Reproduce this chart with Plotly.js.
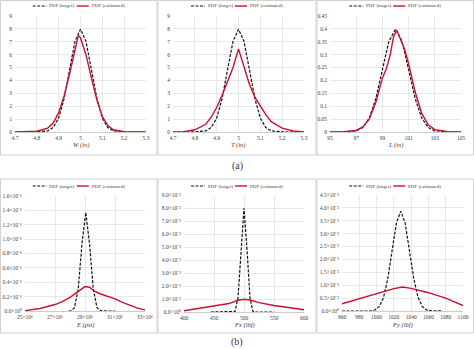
<!DOCTYPE html>
<html><head><meta charset="utf-8">
<script src="https://cdn.plot.ly/plotly-3.0.1.min.js"></script>
<style>html,body{margin:0;padding:0;background:#fff}#c{width:474px;height:349px}</style>
</head><body><div id="c"></div>
<script>
// ---- data ----
const W_x = [4.7, 4.75, 4.8, 4.85, 4.875, 4.9, 4.925, 4.95, 4.975, 5.0, 5.025, 5.05, 5.075, 5.1, 5.125, 5.15, 5.2, 5.25, 5.3];
const W_target = [0, 0, 0.003, 0.09, 0.35, 1.08, 2.59, 4.84, 7.04, 7.98, 7.04, 4.84, 2.59, 1.08, 0.35, 0.09, 0.003, 0, 0];
const W_est_x = [4.7, 4.75, 4.8, 4.85, 4.875, 4.9, 4.925, 4.95, 4.975, 4.99, 5.0, 5.025, 5.05, 5.075, 5.1, 5.125, 5.15, 5.2, 5.25, 5.3];
const W_est = [0, 0.01, 0.06, 0.3, 0.7, 1.5, 2.8, 4.5, 6.5, 7.5, 7.3, 6.0, 4.2, 2.5, 1.2, 0.5, 0.17, 0.02, 0, 0];

const T_x = [4.7, 4.75, 4.8, 4.85, 4.875, 4.9, 4.925, 4.95, 4.975, 5.0, 5.025, 5.05, 5.075, 5.1, 5.125, 5.15, 5.2, 5.25, 5.3];
const T_target = [0, 0, 0.003, 0.09, 0.35, 1.08, 2.59, 4.84, 7.04, 7.98, 7.04, 4.84, 2.59, 1.08, 0.35, 0.09, 0.003, 0, 0];
const T_est = [0, 0.03, 0.17, 0.6, 1.15, 1.9, 2.85, 3.9, 5.0, 6.45, 5.0, 3.7, 2.7, 2.0, 1.35, 0.8, 0.3, 0.08, 0];

const L_x = [95, 96, 97, 97.5, 98, 98.5, 99, 99.5, 100, 100.5, 101, 101.5, 102, 102.5, 103, 104, 105];
const L_target = [0, 0.0001, 0.0044, 0.0175, 0.054, 0.13, 0.242, 0.352, 0.399, 0.352, 0.242, 0.13, 0.054, 0.0175, 0.0044, 0.0001, 0];
const L_est_x = [95, 96, 97, 97.5, 98, 98.5, 99, 99.3, 99.6, 99.85, 100.1, 100.4, 100.7, 101, 101.5, 102, 102.5, 103, 104, 105];
const L_est = [0, 0.001, 0.006, 0.02, 0.05, 0.115, 0.21, 0.245, 0.3, 0.37, 0.395, 0.36, 0.32, 0.265, 0.155, 0.072, 0.028, 0.009, 0.001, 0];

const E_target_x = [27.9e6, 28.05e6, 28.3e6, 28.55e6, 28.8e6, 29.05e6, 29.3e6, 29.55e6, 29.8e6, 30.05e6, 30.5e6, 31.0e6];
const E_target = [0, 0.003e-6, 0.046e-6, 0.31e-6, 0.94e-6, 1.37e-6, 0.94e-6, 0.31e-6, 0.046e-6, 0.003e-6, 0, 0];
const E_est_x = [25e6, 26e6, 27e6, 27.5e6, 28e6, 28.5e6, 29e6, 29.3e6, 29.6e6, 30e6, 30.5e6, 31e6, 31.5e6, 32e6, 32.5e6, 33e6];
const E_est = [0.005e-6, 0.035e-6, 0.09e-6, 0.13e-6, 0.19e-6, 0.27e-6, 0.34e-6, 0.33e-6, 0.28e-6, 0.24e-6, 0.21e-6, 0.17e-6, 0.12e-6, 0.08e-6, 0.04e-6, 0.015e-6];

const Fx_target_x = [445, 480, 485, 490, 495, 500, 505, 510, 515, 520, 550];
const Fx_target = [0, 0, 0.0004, 0.0108, 0.0484, 0.0798, 0.0484, 0.0108, 0.0004, 0, 0];
const Fx_est_x = [400, 425, 450, 475, 490, 500, 510, 525, 550, 575, 600];
const Fx_est = [0.001, 0.003, 0.0045, 0.0065, 0.009, 0.0098, 0.0092, 0.0072, 0.005, 0.0035, 0.0017];

const Fy_target_x = [960, 993, 998, 1003, 1008, 1013, 1018, 1023, 1028, 1033, 1038, 1043, 1048, 1053, 1058, 1063, 1076];
const Fy_target = [0, 0, 0.0004, 0.0017, 0.0052, 0.0126, 0.0235, 0.0342, 0.0387, 0.0342, 0.0235, 0.0126, 0.0052, 0.0017, 0.0004, 0.0001, 0];
const Fy_est_x = [960, 980, 1000, 1020, 1030, 1040, 1060, 1080, 1100];
const Fy_est = [0.0028, 0.0048, 0.007, 0.0087, 0.0093, 0.0088, 0.0071, 0.005, 0.0021];

// tick labels
const E_xtickvals = [25e6, 27e6, 29e6, 31e6, 33e6];
const E_xticktext = ['25×10⁶', '27×10⁶', '29×10⁶', '31×10⁶', '33×10⁶'];
const E_ytickvals = [0, 0.2e-6, 0.4e-6, 0.6e-6, 0.8e-6, 1.0e-6, 1.2e-6, 1.4e-6, 1.6e-6];
const E_yticktext = ['0.0×10⁰', '0.2×10⁻⁶', '0.4×10⁻⁶', '0.6×10⁻⁶', '0.8×10⁻⁶', '1.0×10⁻⁶', '1.2×10⁻⁶', '1.4×10⁻⁶', '1.6×10⁻⁶'];
const Fx_ytickvals = [0, 0.01, 0.02, 0.03, 0.04, 0.05, 0.06, 0.07, 0.08, 0.09];
const Fx_yticktext = ['0.0×10⁰', '1.0×10⁻²', '2.0×10⁻²', '3.0×10⁻²', '4.0×10⁻²', '5.0×10⁻²', '6.0×10⁻²', '7.0×10⁻²', '8.0×10⁻²', '9.0×10⁻²'];
const Fy_ytickvals = [0, 0.005, 0.01, 0.015, 0.02, 0.025, 0.03, 0.035, 0.04, 0.045];
const Fy_yticktext = ['0.0×10⁰', '0.5×10⁻²', '1.0×10⁻²', '1.5×10⁻²', '2.0×10⁻²', '2.5×10⁻²', '3.0×10⁻²', '3.5×10⁻²', '4.0×10⁻²', '4.5×10⁻²'];

const axisTitles = ['W (in)', 'T (in)', 'L (in)', 'E (psi)', 'Fx (lbf)', 'Fy (lbf)'];
const legendNames = ['PDF (target)', 'PDF (estimated)'];
const panelLabels = ['(a)', '(b)'];

// ---- layout geometry (pixels) ----
const Wd = 474, Ht = 349;
const FONT = 'Liberation Serif, Times New Roman, serif';
const RED = '#c8102e';
const panels = [
  {x0: 15, x1: 146, y0: 16, y1: 132, tx: W_x, ty: W_target, ex: W_est_x, ey: W_est,
   xr: [4.7, 5.3], xd: 0.1, yr: [0, 9], yd: 1},
  {x0: 173, x1: 304, y0: 16, y1: 132, tx: T_x, ty: T_target, ex: T_x, ey: T_est,
   xr: [4.7, 5.3], xd: 0.1, yr: [0, 9], yd: 1},
  {x0: 330, x1: 461, y0: 16, y1: 132, tx: L_x, ty: L_target, ex: L_est_x, ey: L_est,
   xr: [95, 105], xd: 2, yr: [0, 0.45], yd: 0.05},
  {x0: 25, x1: 145, y0: 196, y1: 311, tx: E_target_x, ty: E_target, ex: E_est_x, ey: E_est,
   xr: [25e6, 33e6], xtv: E_xtickvals, xtt: E_xticktext, yr: [0, 1.6e-6], ytv: E_ytickvals, ytt: E_yticktext},
  {x0: 184, x1: 304, y0: 195, y1: 312, tx: Fx_target_x, ty: Fx_target, ex: Fx_est_x, ey: Fx_est,
   xr: [400, 600], xd: 50, yr: [0, 0.09], ytv: Fx_ytickvals, ytt: Fx_yticktext},
  {x0: 342, x1: 463, y0: 195, y1: 311, tx: Fy_target_x, ty: Fy_target, ex: Fy_est_x, ey: Fy_est,
   xr: [960, 1100], xd: 20, yr: [0, 0.045], ytv: Fy_ytickvals, ytt: Fy_yticktext}
];
const frames = [
  [0.5, 157, 0.5, 155], [158, 316, 0.5, 155], [317, 473.5, 0.5, 155],
  [0.5, 157, 179, 333], [158, 316, 179, 333], [317, 473.5, 179, 333]
];
const px = v => v / Wd, py = v => 1 - v / Ht;

const data = [];
const layout = {
  width: Wd, height: Ht, margin: {l: 0, r: 0, t: 0, b: 0},
  paper_bgcolor: '#fff', plot_bgcolor: '#fff', showlegend: false,
  font: {family: FONT, color: '#404040'},
  shapes: [], annotations: []
};

panels.forEach((p, i) => {
  const n = i === 0 ? '' : String(i + 1);
  const xa = 'x' + n, ya = 'y' + n;
  data.push({x: p.tx, y: p.ty, xaxis: xa, yaxis: ya, type: 'scatter', mode: 'lines',
    line: {color: '#111', width: 1.2, dash: '3px,1.5px'}, name: legendNames[0]});
  data.push({x: p.ex, y: p.ey, xaxis: xa, yaxis: ya, type: 'scatter', mode: 'lines',
    line: {color: RED, width: 1.4}, name: legendNames[1]});
  const xaxis = {
    domain: [px(p.x0), px(p.x1)], anchor: ya, range: p.xr, showgrid: true, gridcolor: '#d9d9d9', gridwidth: 0.6,
    zeroline: false, showline: true, linecolor: '#bfbfbf', linewidth: 0.8, ticks: '',
    tickfont: {size: 5.5, family: FONT, color: '#404040'}, automargin: false, ticklabelstandoff: 1
  };
  if (p.xtv) { xaxis.tickmode = 'array'; xaxis.tickvals = p.xtv; xaxis.ticktext = p.xtt; }
  else { xaxis.tick0 = p.xr[0]; xaxis.dtick = p.xd; }
  const yaxis = {
    domain: [py(p.y1), py(p.y0)], anchor: xa, range: p.yr, showgrid: true, gridcolor: '#d9d9d9', gridwidth: 0.6,
    zeroline: false, showline: false, ticks: '',
    tickfont: {size: 5.5, family: FONT, color: '#404040'}, automargin: false, ticklabelstandoff: 2
  };
  if (p.ytv) { yaxis.tickmode = 'array'; yaxis.tickvals = p.ytv; yaxis.ticktext = p.ytt; }
  else { yaxis.tick0 = 0; yaxis.dtick = p.yd; }
  layout['xaxis' + n] = xaxis;
  layout['yaxis' + n] = yaxis;

  // axis title
  const top = i < 3;
  layout.annotations.push({xref: 'paper', yref: 'paper', x: px((p.x0 + p.x1) / 2), y: py(top ? 145.5 : 324.5),
    text: '<i>' + axisTitles[i] + '</i>', showarrow: false, xanchor: 'center', yanchor: 'middle',
    font: {size: 6.5, family: FONT, color: '#404040'}});

  // frame
  const f = frames[i];
  layout.shapes.push({type: 'rect', xref: 'paper', yref: 'paper', x0: px(f[0]), x1: px(f[1]), y0: py(f[3]), y1: py(f[2]),
    line: {color: '#d0d0d0', width: 1}, fillcolor: 'rgba(0,0,0,0)', layer: 'below'});

  // legend
  const c = (f[0] + f[1]) / 2, ly = top ? 6 : 186;
  layout.shapes.push({type: 'line', xref: 'paper', yref: 'paper', x0: px(c - 46), x1: px(c - 32), y0: py(ly), y1: py(ly),
    line: {color: '#111', width: 1.2, dash: '3px,1.5px'}});
  layout.shapes.push({type: 'line', xref: 'paper', yref: 'paper', x0: px(c - 2), x1: px(c + 10), y0: py(ly), y1: py(ly),
    line: {color: RED, width: 1.4}});
  layout.annotations.push({xref: 'paper', yref: 'paper', x: px(c - 31.5), y: py(ly), text: legendNames[0], showarrow: false,
    xanchor: 'left', yanchor: 'middle', font: {size: 5, family: FONT, color: '#404040'}});
  layout.annotations.push({xref: 'paper', yref: 'paper', x: px(c + 11), y: py(ly), text: legendNames[1], showarrow: false,
    xanchor: 'left', yanchor: 'middle', font: {size: 5, family: FONT, color: '#404040'}});
});

layout.annotations.push({xref: 'paper', yref: 'paper', x: px(237), y: py(166), text: panelLabels[0], showarrow: false,
  xanchor: 'center', yanchor: 'middle', font: {size: 10, family: FONT, color: '#333'}});
layout.annotations.push({xref: 'paper', yref: 'paper', x: px(237), y: py(342), text: panelLabels[1], showarrow: false,
  xanchor: 'center', yanchor: 'middle', font: {size: 10, family: FONT, color: '#333'}});

Plotly.newPlot('c', data, layout, {staticPlot: true, displayModeBar: false});
</script></body></html>
